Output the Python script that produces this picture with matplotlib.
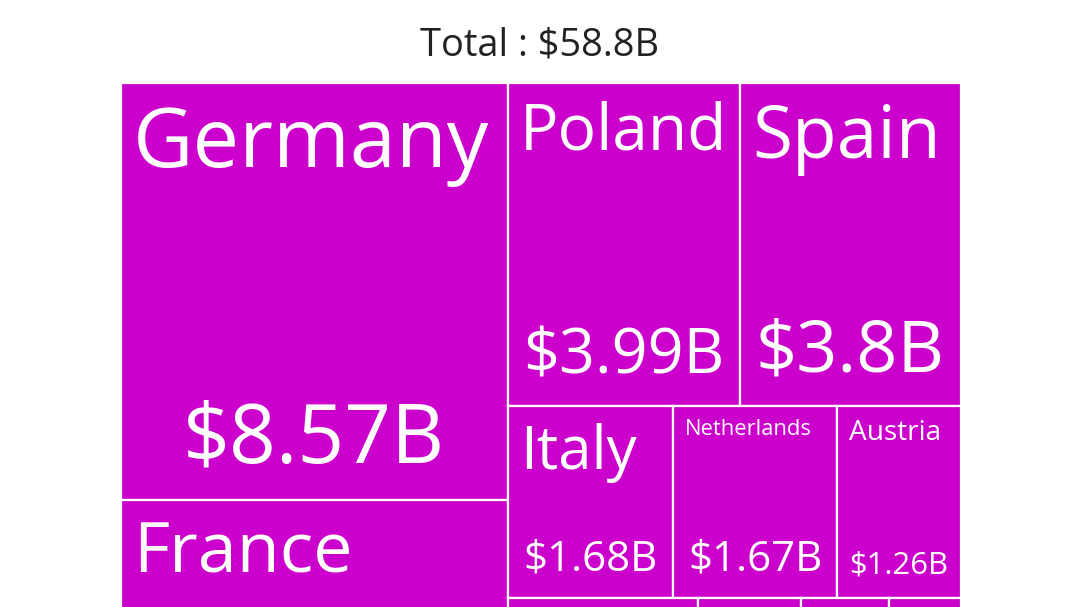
import matplotlib
matplotlib.use("Agg")
import matplotlib.pyplot as plt
from matplotlib.patches import Rectangle

# values in $B, sorted like the treemap draws them
countries = ["Germany", "France", "Poland", "Spain", "Italy", "Netherlands", "Austria",
             "Belgium", "Czechia", "Sweden", "Hungary", "Romania", "Portugal",
             "Denmark", "Slovakia", "Finland", "Ireland"]
values = [8.57, 7.87, 3.99, 3.80, 1.68, 1.67, 1.26,
          1.05, 0.96, 0.88, 0.87, 0.75, 0.615,
          0.55, 0.45, 0.40, 0.345]
total = 58.8

# font sizes (px) for the label / value of each tile
label_px = {"Germany": 83, "France": 70, "Poland": 64, "Spain": 73, "Italy": 60,
            "Netherlands": 22, "Austria": 28}
value_px = {"Germany": 82, "France": 80, "Poland": 63, "Spain": 72, "Italy": 42,
            "Netherlands": 42, "Austria": 31}

PHI = (1 + 5 ** 0.5) / 2
W, H = 840, 800   # treemap domain in pixels (runs off the bottom of the figure)
TOP = 83          # pixel row where the treemap starts
FIG_H = 607
COLOR = "#cc00cc"
FONT = "Open Sans"


def squarify(vals, x0, y0, x1, y1, ratio=PHI):
    # same row logic as d3.treemapSquarify
    rects = []
    n = len(vals)
    value = sum(vals)
    i0 = 0
    while i0 < n:
        dx, dy = x1 - x0, y1 - y0
        i1 = i0 + 1
        s = vals[i0]
        mn = mx = s
        alpha = max(dy / dx, dx / dy) / (value * ratio)
        beta = s * s * alpha
        best = max(mx / beta, beta / mn)
        while i1 < n:
            v = vals[i1]
            s2 = s + v
            mn2, mx2 = min(mn, v), max(mx, v)
            beta = s2 * s2 * alpha
            r = max(mx2 / beta, beta / mn2)
            if r > best:
                break
            s, mn, mx, best = s2, mn2, mx2, r
            i1 += 1
        row = vals[i0:i1]
        if dx < dy:
            h = dy * s / value
            xx = x0
            for v in row:
                w = dx * v / s
                rects.append((xx, y0, w, h))
                xx += w
            y0 += h
        else:
            w = dx * s / value
            yy = y0
            for v in row:
                h = dy * v / s
                rects.append((x0, yy, w, h))
                yy += h
            x0 += w
        value -= s
        i0 = i1
    return rects


fig = plt.figure(figsize=(10.8, 6.07), dpi=100)
ax = fig.add_axes([121 / 1080, 1 - (TOP + H) / FIG_H, W / 1080, H / FIG_H])
ax.set_xlim(0, W)
ax.set_ylim(H, 0)
ax.axis("off")

pt = 0.72  # px -> pt at 100 dpi
for name, val, (x, y, w, h) in zip(countries, values, squarify(values, 0, 0, W, H)):
    ax.add_patch(Rectangle((x, y), w, h, facecolor=COLOR, edgecolor="white", lw=1.6))
    lp = label_px.get(name, min(40, w / 5))
    vp = value_px.get(name, min(40, w / 4))
    ly = y + 8 + 0.2 * lp + 0.714 * lp
    vy = y + h - (17 + 0.25 * vp)
    # only texts that land inside the picture (the treemap runs past its bottom)
    if TOP + ly + 0.25 * lp < FIG_H:
        ax.text(x + 12, ly, name, color="white", family=FONT,
                fontsize=lp * pt, ha="left", va="baseline")
    if TOP + vy + 0.25 * vp < FIG_H:
        ax.text(x + w / 2, vy, f"${val:.3g}B", color="white",
                family=FONT, fontsize=vp * pt, ha="center", va="baseline")

fig.text(0.5, 1 - 56 / FIG_H, f"Total : ${total:.3g}B", ha="center", va="baseline",
         fontsize=38 * pt, color="#222222", family=FONT)

fig.savefig("out.png", dpi=100)
